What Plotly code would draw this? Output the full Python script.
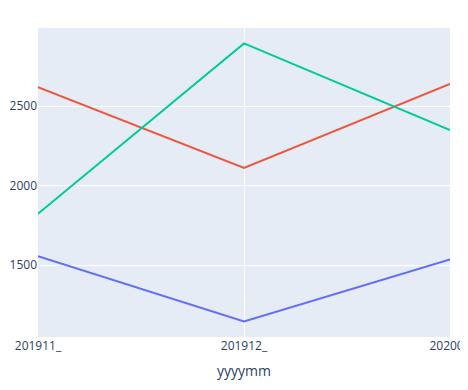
import plotly.graph_objects as go

months = ["201911_", "201912_", "202001"]
series_names = ["a", "b", "c"]
series_values = [
    [1556, 1146, 1537],
    [2619, 2111, 2640],
    [1823, 2894, 2350],
]
colors = ["#636efa", "#EF553B", "#00cc96"]

fig = go.Figure()
for name, vals, col in zip(series_names, series_values, colors):
    fig.add_trace(go.Scatter(x=months, y=vals, mode="lines", name=name,
                             line=dict(color=col, width=2)))

fig.update_layout(
    template="plotly",
    width=460, height=372,
    margin=dict(l=30, r=18, t=20, b=43, autoexpand=False),
    legend=dict(title=dict(text="name")),
    xaxis=dict(title=dict(text="yyyymm"), automargin=False),
    yaxis=dict(automargin=False),
)
fig.write_html("out.html")
